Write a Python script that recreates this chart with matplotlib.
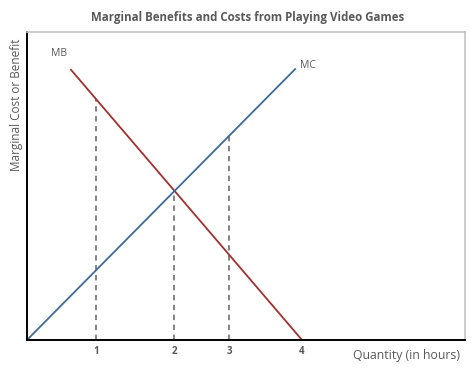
import matplotlib
matplotlib.use("Agg")
import matplotlib.pyplot as plt
import numpy as np

plt.rcParams['font.family'] = ['Open Sans', 'DejaVu Sans']

# Data (quantity in hours on x; cost/benefit on y, arbitrary units)
mc_x = [0.0, 3.90]
mc_y = [0.0, 3.94]
mb_x = [0.64, 4.0]
mb_y = [3.93, 0.0]
tick_pos = [1.0, 2.14, 2.94, 4.0]
tick_labels = ["1", "2", "3", "4"]
dashed_x = tick_pos[:3]

title = "Marginal Benefits and Costs from Playing Video Games"
ylabel = "Marginal Cost or Benefit"
xlabel = "Quantity (in hours)"

W, H = 474, 368
fig = plt.figure(figsize=(W / 100, H / 100), dpi=100)
ax = fig.add_axes([27 / W, 1 - 340 / H, (465 - 27) / W, (340 - 32) / H])

red = "#A2302F"
blue = "#3E6A97"
gray = "#7a7a7a"

for x in dashed_x:
    top = max(np.interp(x, mb_x, mb_y), np.interp(x, mc_x, mc_y))
    ax.plot([x, x], [0, top], color=gray, lw=1.3, ls=(0, (3, 2.5)), zorder=1)

ax.plot(mb_x, mb_y, color=red, lw=1.3, zorder=2)
ax.plot(mc_x, mc_y, color=blue, lw=1.3, zorder=2)

ax.set_xlim(0, (465 - 27) / 68.75)
ax.set_ylim(0, (340 - 32) / 68.75)
ax.set_xticks(tick_pos)
ax.set_xticklabels(tick_labels, fontsize=7, fontweight='bold', color='#595959')
ax.set_yticks([])
ax.tick_params(axis='x', length=0, pad=4)

for s in ['left', 'bottom']:
    ax.spines[s].set_color('#000000')
    ax.spines[s].set_linewidth(1.4)
for s in ['top', 'right']:
    ax.spines[s].set_color('#c4c4c4')
    ax.spines[s].set_linewidth(1.2)

fig.text(247.5 / W, 1 - 18 / H, title, ha='center', va='center', fontsize=8.3,
         fontweight='bold', color='#595959')
fig.text(17 / W, 1 - 105 / H, ylabel, rotation=90, ha='center', va='center',
         fontsize=8.5, color='#595959')
fig.text(460 / W, 1 - 355 / H, xlabel, ha='right', va='center', fontsize=8.8,
         color='#595959')
fig.text(59 / W, 1 - 53 / H, "MB", ha='center', va='center', fontsize=7.5,
         color='#595959')
fig.text(308 / W, 1 - 66 / H, "MC", ha='center', va='center', fontsize=7.5,
         color='#595959')

fig.savefig("out.png", dpi=100)
